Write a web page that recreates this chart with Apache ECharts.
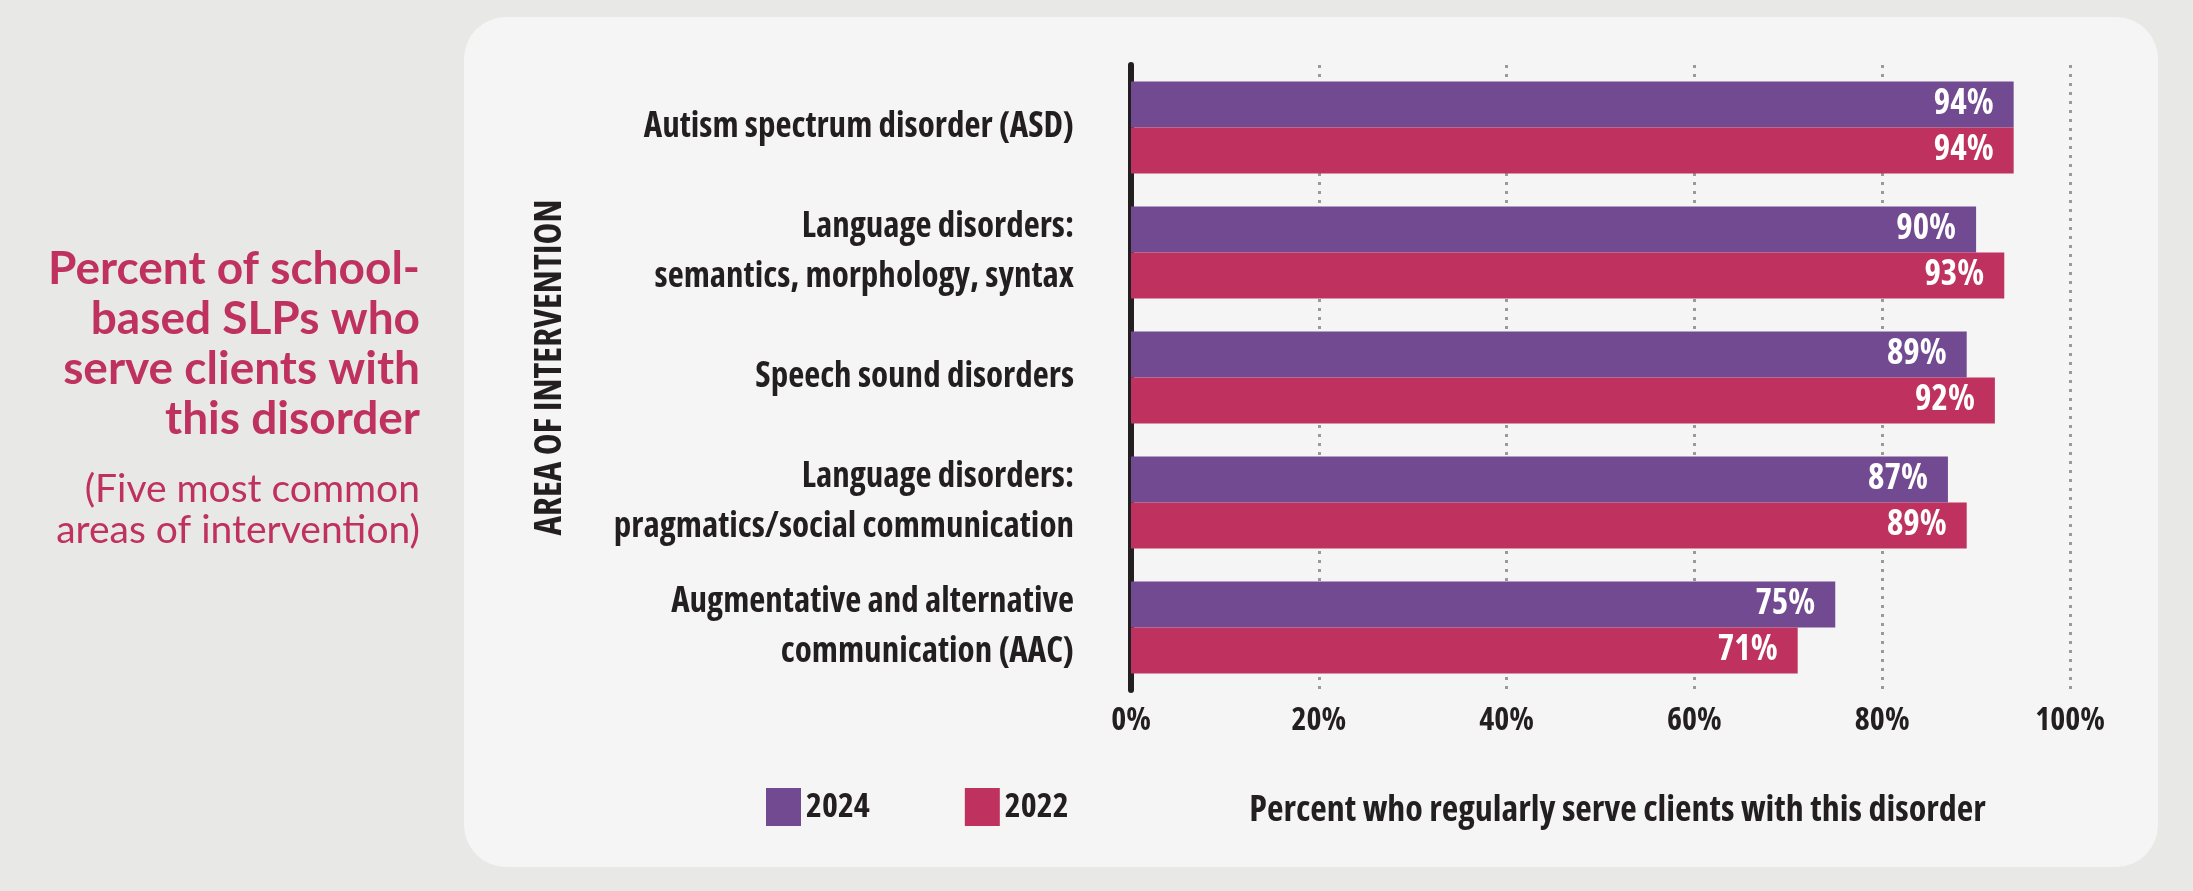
<!DOCTYPE html>
<html>
<head>
<meta charset="utf-8">
<script src="https://cdn.jsdelivr.net/npm/echarts@6/dist/echarts.min.js"></script>
<style>
	html, body { margin: 0; padding: 0; background: #e8e8e6; }
	#panel { position: absolute; left: 464px; top: 17px; width: 1694px; height: 850px; background: #f5f5f5; border-radius: 42px; }
	#chart { position: absolute; left: 0; top: 0; width: 2193px; height: 891px; }
</style>
</head>
<body>
<div id="panel"></div>
<div id="chart"></div>
<script>
const areas = [
	'Autism spectrum disorder (ASD)',
	'Language disorders:\nsemantics, morphology, syntax',
	'Speech sound disorders',
	'Language disorders:\npragmatics/social communication',
	'Augmentative and alternative\ncommunication (AAC)',
];
const values2024 = [94, 90, 89, 87, 75];
const values2022 = [94, 93, 92, 89, 71];
const percentTicks = [0, 20, 40, 60, 80, 100];

// narrow bold face: Open Sans with the condensed width axis
const narrow = {
	fontFamily: "'Open Sans', Roboto, sans-serif",
	fontStyle: 'condensed',
	fontWeight: 'bold',
};
const ink = '#231f20';
const purple = '#724a91';
const crimson = '#bf325f';

const chart = echarts.init(document.getElementById('chart'));

const barLabel = {
	...narrow,
	show: true,
	position: 'insideRight',
	distance: 20,
	formatter: '{c}%',
	color: '#ffffff',
	fontSize: 35,
};

const option = {
	backgroundColor: 'transparent',
	animation: false,
	grid: {
		left: 1131,
		right: 123,
		top: 65,
		bottom: 201,
	},
	legend: {
		left: 761,
		top: 783,
		itemWidth: 35,
		itemHeight: 38,
		itemGap: 95,
		icon: 'rect',
		data: ['2024', '2022'],
		textStyle: { ...narrow, color: ink, fontSize: 34 },
	},
	xAxis: {
		type: 'value',
		min: 0,
		max: 100,
		interval: 20,
		name: 'Percent who regularly serve clients with this disorder',
		nameLocation: 'middle',
		nameGap: 103,
		nameMoveOverlap: false,
		nameTextStyle: { ...narrow, color: ink, fontSize: 36, padding: [0, 0, 0, 34] },
		axisLine: { show: false },
		axisTick: { show: false },
		axisLabel: {
			...narrow,
			color: ink,
			fontSize: 32,
			margin: 15,
			formatter: (v) => (percentTicks.includes(v) ? v + '%' : ''),
		},
		splitLine: {
			show: true,
			lineStyle: {
				color: '#9a9a9a',
				width: 3,
				type: [3, 6],
			},
		},
	},
	yAxis: {
		type: 'category',
		inverse: true,
		data: areas,
		name: 'AREA OF INTERVENTION',
		nameLocation: 'middle',
		nameGap: 562,
		nameRotate: 90,
		nameMoveOverlap: false,
		nameTextStyle: { ...narrow, color: ink, fontSize: 37, padding: [0, 0, 0, 20] },
		axisLine: {
			show: true,
			lineStyle: { color: ink, width: 6 },
		},
		axisTick: { show: false },
		axisLabel: {
			...narrow,
			color: ink,
			fontSize: 35,
			lineHeight: 50,
			margin: 57,
			align: 'right',
		},
	},
	series: [
		{
			name: '2024',
			type: 'bar',
			barWidth: 46,
			barGap: '0%',
			itemStyle: { color: purple },
			label: barLabel,
			data: values2024,
		},
		{
			name: '2022',
			type: 'bar',
			barWidth: 46,
			barGap: '0%',
			itemStyle: { color: crimson },
			label: barLabel,
			data: values2022,
		},
	],
	graphic: [
		{
			type: 'text',
			x: 420,
			y: 344,
			style: {
				text: 'Percent of school-\nbased SLPs who\nserve clients with\nthis disorder',
				align: 'right',
				verticalAlign: 'middle',
				fill: crimson,
				font: "bold 46px Lato, 'Noto Sans', sans-serif",
				lineHeight: 50,
			},
		},
		{
			type: 'text',
			x: 420,
			y: 510,
			style: {
				text: '(Five most common\nareas of intervention)',
				align: 'right',
				verticalAlign: 'middle',
				fill: crimson,
				font: "39px Lato, 'Noto Sans', sans-serif",
				lineHeight: 41,
			},
		},
	],
};

chart.setOption(option);
</script>
</body>
</html>
